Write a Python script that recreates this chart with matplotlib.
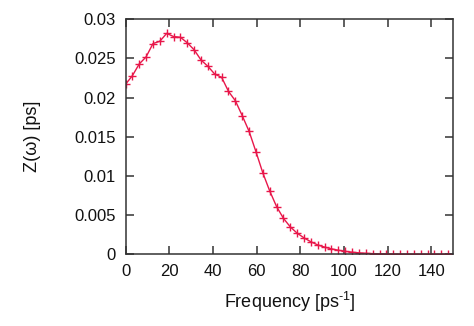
import numpy as np
import matplotlib
matplotlib.use("Agg")
import matplotlib.pyplot as plt
from matplotlib.ticker import FixedLocator

plt.rcParams['font.family'] = ['Liberation Sans', 'DejaVu Sans']
plt.rcParams['mathtext.fontset'] = 'custom'
plt.rcParams['mathtext.rm'] = 'Liberation Sans'

# Frequency sample points [ps^-1]
freq = [0.0, 3.14, 6.28, 9.42, 12.57, 15.71, 18.85, 21.99, 25.13, 28.27,
        31.42, 34.56, 37.70, 40.84, 43.98, 47.12, 50.27, 53.41, 56.55, 59.69,
        62.83, 65.97, 69.12, 72.26, 75.40, 78.54, 81.68, 84.82, 87.96, 91.11,
        94.25, 97.39, 100.53, 103.67, 106.81, 109.96, 113.10, 116.24, 119.38, 122.52,
        125.66, 128.81, 131.95, 135.09, 138.23, 141.37, 144.51, 147.65]
# Z(omega) [ps]
z = [0.0217, 0.0228, 0.0243, 0.0252, 0.0269, 0.0272, 0.0282, 0.0278, 0.0277, 0.0270,
     0.0261, 0.0248, 0.0240, 0.0230, 0.0226, 0.0208, 0.0196, 0.0177, 0.0157, 0.0131,
     0.0104, 0.0081, 0.0061, 0.0046, 0.0035, 0.0027, 0.0021, 0.0016, 0.0012, 0.00092,
     0.00070, 0.00052, 0.00038, 0.00027, 0.00019, 0.00013, 0.00009, 0.00006, 0.00004, 0.00003,
     0.00002, 0.00001, 0.00001, 0.0, 0.0, 0.0, 0.0, 0.0]

xticks = [0, 20, 40, 60, 80, 100, 120, 140]
yticks = [0, 0.005, 0.01, 0.015, 0.02, 0.025, 0.03]
ytick_labels = ["0", "0.005", "0.01", "0.015", "0.02", "0.025", "0.03"]

fig = plt.figure(figsize=(4.74, 3.26), dpi=100)
ax = fig.add_axes([0.2648, 0.2199, 0.6915, 0.7209])

ax.plot(freq, z, color='#e8174a', linewidth=1.0, marker='+', markersize=6,
        markeredgewidth=1.0)

ax.set_xlim(0, 150)
ax.set_ylim(0, 0.03)
ax.xaxis.set_major_locator(FixedLocator(xticks))
ax.set_yticks(yticks)
ax.set_yticklabels(ytick_labels)

for sp in ax.spines.values():
    sp.set_color('#333333')
    sp.set_linewidth(1.1)
ax.tick_params(direction='in', length=6, width=1.1, color='#333333',
               top=True, right=True, labelsize=12, pad=7, labelcolor='#111111')

ax.set_xlabel('Frequency [ps$^{\\text{-1}}$]', fontsize=13, color='#111111', labelpad=8)
ax.set_ylabel('Z(ω) [ps]', fontsize=13, color='#111111', labelpad=24)

fig.savefig('out.png', dpi=100)
